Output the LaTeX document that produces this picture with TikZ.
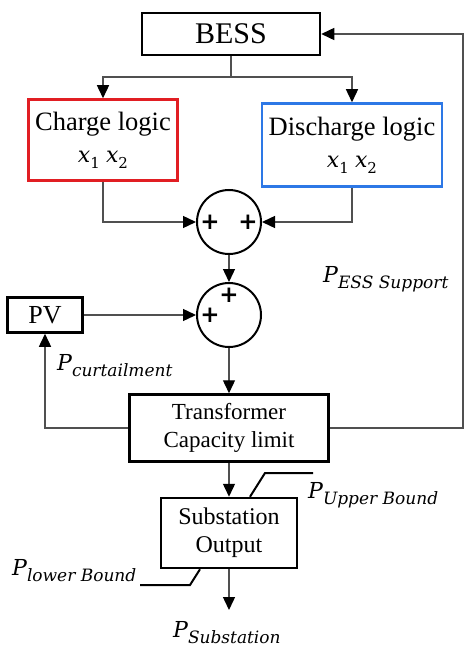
\documentclass[tikz,border=0pt]{standalone}
\usepackage{fontspec}
\setmainfont{Liberation Serif}
\newfontfamily\lblfont{DejaVu Serif}
\newfontfamily\plusfont{DejaVu Sans}
\usetikzlibrary{arrows.meta}
\usetikzlibrary{positioning}
\definecolor{chargered}{RGB}{225,30,35}
\definecolor{dischargeblue}{RGB}{45,120,230}
\definecolor{wire}{RGB}{80,80,80}
\newcommand{\lblsub}[3][17]{{\lblfont\itshape #2}\raisebox{-6pt}{\lblfont\itshape\fontsize{#1}{#1}\selectfont #3}}
\tikzset{
    block/.style = {rectangle, draw=black, line width=2.5pt, align=center, inner sep=0pt},
    sumnode/.style = {circle, draw=black, line width=2pt, minimum size=64pt, inner sep=0pt},
    plus/.style = {font=\plusfont\bfseries\fontsize{23}{23}\selectfont, inner sep=0pt},
    conn/.style = {-{Triangle[length=13pt,width=12pt,color=black]}, wire, line width=1.4pt},
    wirel/.style = {-, wire, line width=1.4pt},
    bound/.style = {-, black, line width=2pt},
    lbl/.style = {font=\fontsize{22}{22}\selectfont, inner sep=0pt, anchor=base west},
}
\begin{document}
\begin{tikzpicture}[x=1pt, y=-1pt]
\useasboundingbox (0,0) rectangle (474,658);
\node[block, minimum width=178pt, minimum height=42pt, font=\fontsize{30}{30}\selectfont] at (231,34) (bess) {BESS};
\node[block, draw=chargered, minimum width=149pt, minimum height=81pt, font=\fontsize{26.5}{32}\selectfont] at (103,140) (charge) {Charge logic\\{\fontsize{22}{22}\selectfont\lblsub[15]{x}{\upshape 1}\;\lblsub[15]{x}{\upshape 2}}};
\node[block, draw=dischargeblue, minimum width=180pt, minimum height=83pt, font=\fontsize{26.5}{32}\selectfont] at (352,145) (discharge) {Discharge logic\\{\fontsize{22}{22}\selectfont\lblsub[15]{x}{\upshape 1}\;\lblsub[15]{x}{\upshape 2}}};
\node[sumnode] at (229,222) (sum1) {};
\node[sumnode] at (229,315) (sum2) {};
\node[block, minimum width=75pt, minimum height=35pt, font=\fontsize{26}{26}\selectfont] at (45,315) (pv) {PV};
\node[block, minimum width=199pt, minimum height=67pt, font=\fontsize{23}{28}\selectfont] at (229,428) (trafo) {Transformer\\Capacity limit};
\node[block, minimum width=136pt, minimum height=70pt, font=\fontsize{24}{28}\selectfont] at (229,533) (sub) {Substation\\Output};
%
\node[plus] at (210,222) (p1) {+};
\node[plus] at (248,222) (p2) {+};
\node[plus] at (229,295) (p3) {+};
\node[plus] at (210,315) (p4) {+};
%
\coordinate (split) at (231,77);
\coordinate (ret) at (463,428);
\coordinate (out) at (229,610);
\coordinate (ub1) at (265,473);
\coordinate (ub2) at (313,473);
\coordinate (lb1) at (190,585);
\coordinate (lb2) at (140,585);
%
\draw[wirel] (bess.south) -- (split);
\draw[conn] (split) -| (charge.north);
\draw[conn] (split) -| (discharge.north);
\draw[conn] (charge.south) |- (sum1.west);
\draw[conn] (discharge.south) |- (sum1.east);
\draw[conn] (sum1.south) -- (sum2.north);
\draw[conn] (pv.east) -- (sum2.west);
\draw[conn] (sum2.south) -- (trafo.north);
\draw[conn] (trafo.west) -| (pv.south);
\draw[conn] (trafo.east) -- (ret) |- (bess.east);
\draw[conn] (trafo.south) -- (sub.north);
\draw[conn] (sub.south) -- (out);
%
\draw[bound] (sub.north -| 250,0) -- (ub1) -- (ub2);
\draw[bound] (sub.south -| 200,0) -- (lb1) -- (lb2);
%
\node[lbl] at (323,282) (ess) {\lblsub{P}{ESS Support}};
\node[lbl] at (57,370) (curt) {\lblsub{P}{curtailment}};
\node[lbl] at (308,498) (upper) {\lblsub{P}{Upper Bound}};
\node[lbl] at (12,575) (lower) {\lblsub{P}{lower Bound}};
\node[lbl] at (173,637) (psub) {\lblsub{P}{Substation}};
\end{tikzpicture}
\end{document}
